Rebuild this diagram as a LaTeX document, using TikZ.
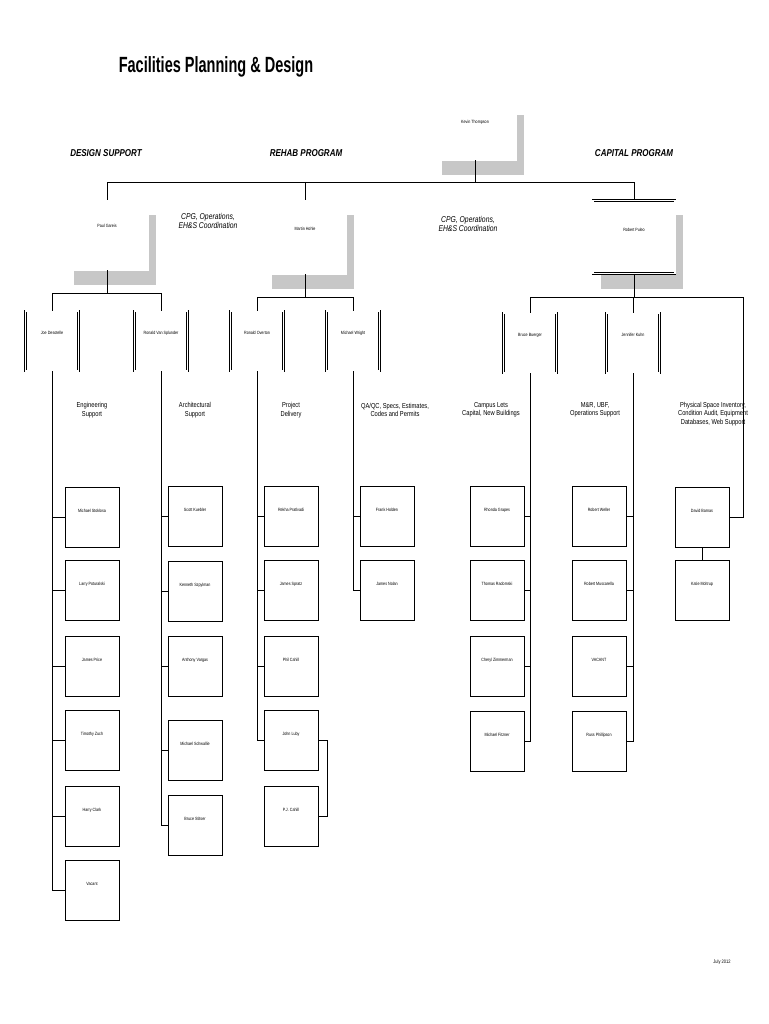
\documentclass[tikz,border=0pt]{standalone}
\usepackage{fontspec}
\setmainfont{Liberation Sans}
\newfontfamily\narrow[FakeStretch=0.8]{Liberation Sans}
\newfontfamily\titlefont[FakeStretch=0.66]{Liberation Sans}
\usetikzlibrary{shadows}
\begin{document}
\begin{tikzpicture}[x=1pt,y=1pt,
  dbl/.style={draw, double, double distance=1.1pt, line width=0.55pt, fill=white, inner sep=0pt, font=\narrow\fontsize{4.6}{5.5}\selectfont, align=center},
  topbox/.style={dbl, minimum width=82pt, minimum height=70pt, text height=28pt, text depth=42pt,
     drop shadow={shadow xshift=8pt, shadow yshift=-15pt, fill=black!22, opacity=1}},
  midbox/.style={dbl, minimum width=53pt, minimum height=60pt, text height=23pt, text depth=37pt},
  leaf/.style={draw, line width=0.8pt, fill=white, inner sep=0pt, minimum width=54pt, minimum height=60pt, text height=25pt, text depth=35pt, font=\narrow\fontsize{4.6}{5.5}\selectfont, align=center},
  head/.style={font=\narrow\bfseries\itshape\fontsize{10}{12}\selectfont},
  grp/.style={font=\narrow\fontsize{7.2}{8.4}\selectfont, align=center},
  cpg/.style={font=\narrow\itshape\fontsize{8.5}{9.5}\selectfont, align=center},
  ln/.style={line width=0.6pt}]
\useasboundingbox (0,0) rectangle (768,-1024);
\node[font=\titlefont\bfseries\fontsize{22}{24}\selectfont] (title) at (216,-67) {Facilities Planning \& Design};
\node[head] (h1) at (106,-153) {DESIGN SUPPORT};
\node[head] (h2) at (306,-153) {REHAB PROGRAM};
\node[head] (h3) at (634,-153) {CAPITAL PROGRAM};
\node[cpg] (c1) at (208,-221) {CPG, Operations,\\EH\&S Coordination};
\node[cpg] (c2) at (468,-224) {CPG, Operations,\\EH\&S Coordination};
% top level
\node[topbox, minimum height=60pt, text height=24pt, text depth=36pt] (kev) at (475,-130) {Kevin Thompson};
\node[topbox] (paul) at (107,-235) {Paul Gareis};
\node[topbox, minimum height=74pt, text height=31pt, text depth=43pt] (mart) at (305,-237) {Martin Hohle};
\node[topbox, minimum height=73pt, text height=31pt, text depth=42pt] (rob) at (634,-237) {Robert Puleo};
\draw[ln] (kev.south) -- (475,-182);
\draw[ln] (paul.north) |- (634,-182) -- (rob.north);
\draw[ln] (305,-182) -- (mart.north);
% level 2
\node[midbox] (joe) at (52,-341) {Joe Desotelle};
\node[midbox] (ron) at (161,-341) {Ronald Van Splunder};
\node[midbox] (ovr) at (257,-341) {Ronald Overton};
\node[midbox] (wri) at (353,-341) {Michael Wright};
\node[midbox] (bru) at (530,-343) {Bruce Buerger};
\node[midbox] (jen) at (633,-343) {Jennifer Kuhn};
\draw[ln] (paul.south) -- (107,-293);
\draw[ln] (joe.north) |- (161,-293) -- (ron.north);
\draw[ln] (mart.south) -- (305,-297);
\draw[ln] (ovr.north) |- (353,-297) -- (wri.north);
\draw[ln] (rob.south) -- (634,-297);
\coordinate (cap3) at (743,-297);
\draw[ln] (bru.north) |- (cap3);
\draw[ln] (633,-297) -- (jen.north);
% group labels
\node[grp] (g1) at (92,-410) {Engineering\\Support};
\node[grp] (g2) at (195,-410) {Architectural\\Support};
\node[grp] (g3) at (291,-410) {Project\\Delivery};
\node[grp] (g4) at (395,-410) {QA/QC, Specs, Estimates,\\Codes and Permits};
\node[grp] (g5) at (491,-410) {Campus Lets\\Capital, New Buildings};
\node[grp] (g6) at (595,-410) {M\&R, UBF,\\Operations Support};
\node[grp] (g7) at (713,-414) {Physical Space Inventory,\\Condition Audit, Equipment\\Databases, Web Support};
% column 1
\node[leaf] (a1) at (92,-517) {Michael Stoklosa};
\node[leaf] (a2) at (92,-590) {Larry Poturalski};
\node[leaf] (a3) at (92,-666) {James Price};
\node[leaf] (a4) at (92,-740) {Timothy Zuch};
\node[leaf] (a5) at (92,-816) {Harry Clark};
\node[leaf] (a6) at (92,-890) {Vacant};
\draw[ln] (joe.south) |- (a6.west);
\foreach \n in {a1,a2,a3,a4,a5} \draw[ln] (\n.west) -- (joe.south |- \n.west);
% column 2
\node[leaf] (b1) at (195,-516) {Scott Kuebler};
\node[leaf] (b2) at (195,-591) {Kenneth Szpylman};
\node[leaf] (b3) at (195,-666) {Anthony Vargas};
\node[leaf] (b4) at (195,-750) {Michael Schwallie};
\node[leaf] (b5) at (195,-825) {Bruce Stitser};
\draw[ln] (ron.south) |- (b5.west);
\foreach \n in {b1,b2,b3,b4} \draw[ln] (\n.west) -- (ron.south |- \n.west);
% column 3
\node[leaf] (d1) at (291,-516) {Rekha Pratlvadi};
\node[leaf] (d2) at (291,-590) {James Spratz};
\node[leaf] (d3) at (291,-666) {Phil Cahill};
\node[leaf] (d4) at (291,-740) {John Luby};
\node[leaf] (d5) at (291,-816) {P.J. Cahill};
\draw[ln] (ovr.south) |- (d4.west);
\foreach \n in {d1,d2,d3} \draw[ln] (\n.west) -- (ovr.south |- \n.west);
\draw[ln] (d4.east) -- ++(9,0) |- (d5.east);
% column 4
\node[leaf] (e1) at (387,-516) {Frank Holden};
\node[leaf] (e2) at (387,-590) {James Nolan};
\draw[ln] (wri.south) |- (e2.west);
\draw[ln] (e1.west) -- (wri.south |- e1.west);
% column 5
\node[leaf] (f1) at (497,-516) {Rhonda Grapes};
\node[leaf] (f2) at (497,-590) {Thomas Radomski};
\node[leaf] (f3) at (497,-666) {Cheryl Zimmerman};
\node[leaf] (f4) at (497,-741) {Michael Fitzner};
\draw[ln] (bru.south) |- (f4.east);
\foreach \n in {f1,f2,f3} \draw[ln] (\n.east) -- (bru.south |- \n.east);
% column 6
\node[leaf] (k1) at (599,-516) {Robert Weller};
\node[leaf] (k2) at (599,-590) {Robert Muscarella};
\node[leaf] (k3) at (599,-666) {VACANT};
\node[leaf] (k4) at (599,-741) {Russ Phillipson};
\draw[ln] (jen.south) |- (k4.east);
\foreach \n in {k1,k2,k3} \draw[ln] (\n.east) -- (jen.south |- \n.east);
% column 7
\node[leaf] (m1) at (702,-517) {David Barnas};
\node[leaf] (m2) at (702,-590) {Katie Moltrup};
\draw[ln] (cap3) |- (m1.east);
\draw[ln] (m1.south) -- (m2.north);
\node[font=\narrow\fontsize{5}{6}\selectfont] (date) at (722,-962) {July 2012};
\end{tikzpicture}
\end{document}
